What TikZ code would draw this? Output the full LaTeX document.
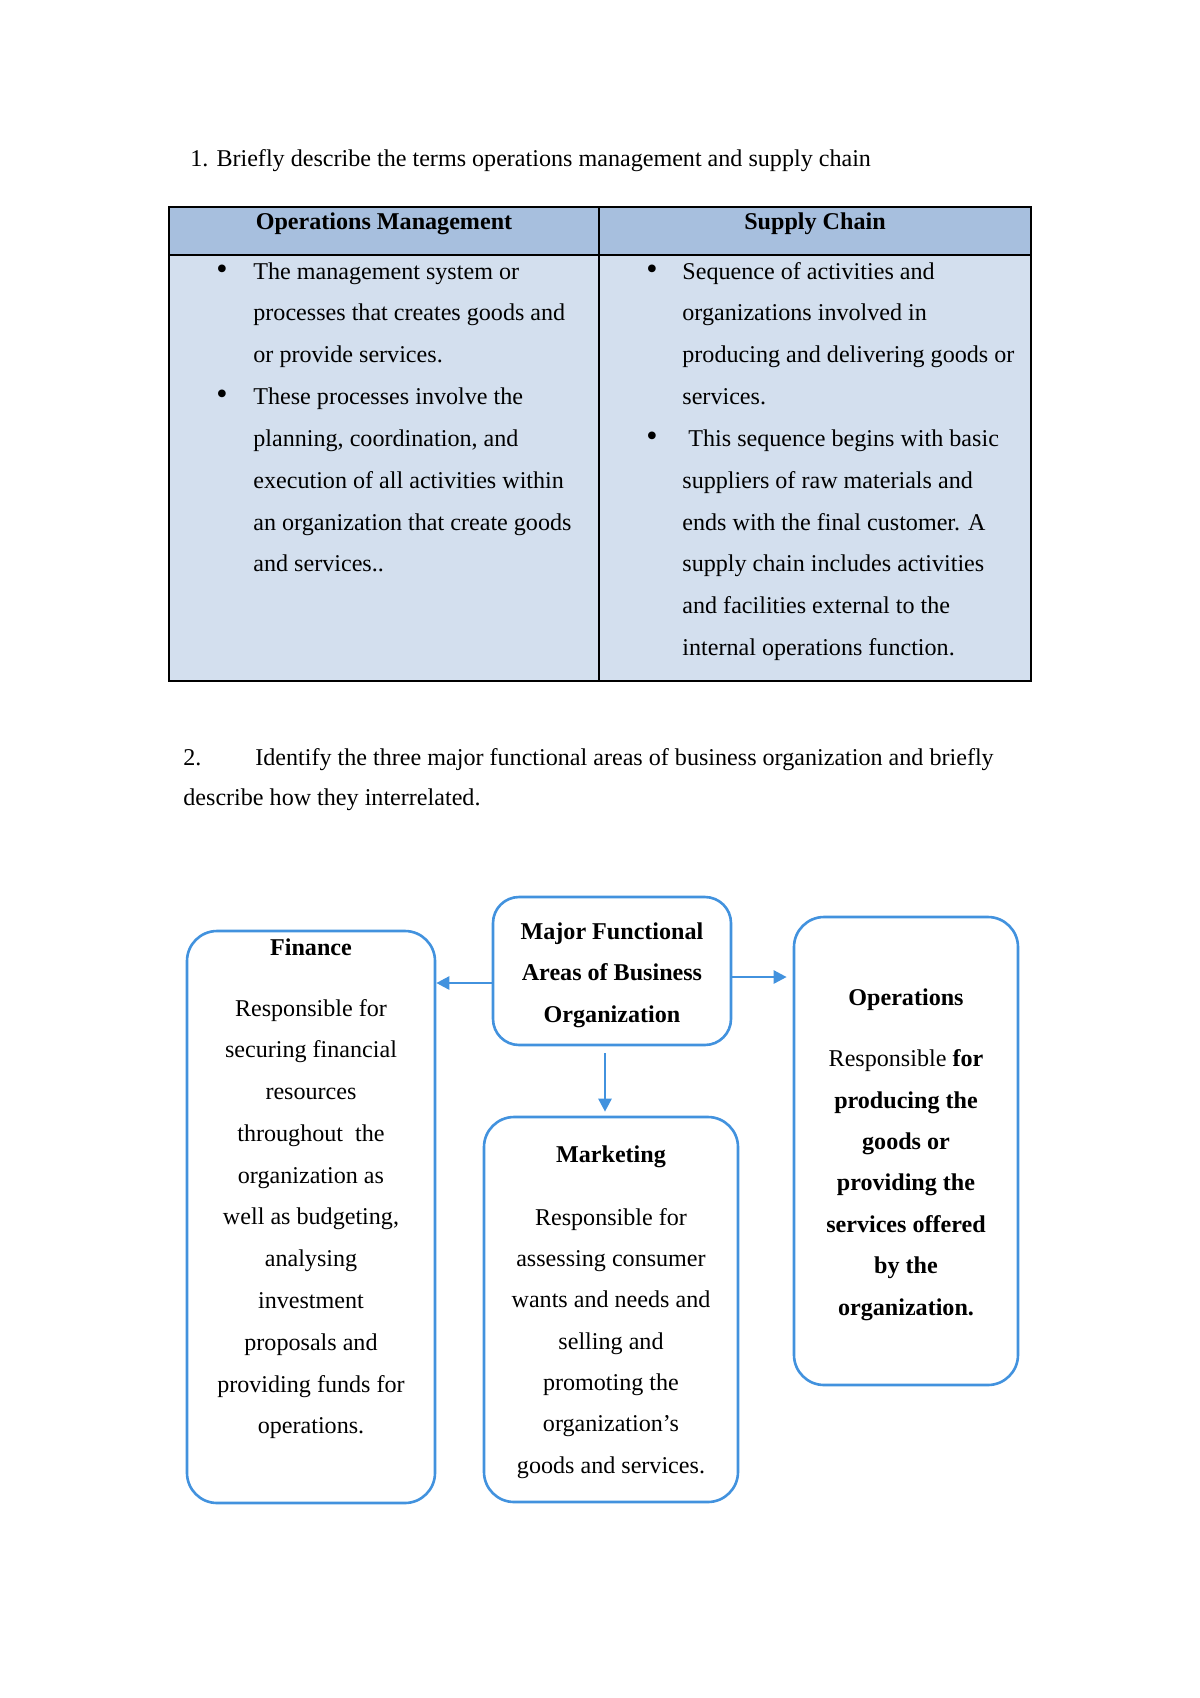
\documentclass[tikz,border=0pt]{standalone}
\usepackage{fontspec}
\setmainfont{Liberation Serif}
\usetikzlibrary{arrows.meta}
\usetikzlibrary{fit}
\usetikzlibrary{positioning}
\definecolor{hdrblue}{HTML}{A7BFDE}
\definecolor{cellblue}{HTML}{D3DFEE}
\definecolor{boxblue}{RGB}{66,146,222}
\tikzset{
  txt/.style={font=\fontsize{12}{20.8}\selectfont, inner sep=0pt},
  btxt/.style={font=\fontsize{12}{20.6}\selectfont\bfseries, inner sep=0pt},
  dot/.style={font=\fontsize{16}{16}\selectfont, inner sep=0pt, anchor=base},
  box/.style={draw=boxblue, line width=1.3pt, rounded corners=15pt, inner sep=0pt},
  arr/.style={draw=boxblue, line width=1.3pt, -{Triangle[length=6.5pt,width=6.5pt]}},
}

\begin{document}
\begin{tikzpicture}[x=0.0175cm, y=-0.0175cm]
\useasboundingbox (0,0) rectangle (1200,1698);

% question 1
\node[txt, anchor=base west] (q1) at (190,166) {1. Briefly describe the terms operations management and supply chain};

% table
\fill[hdrblue] (169,207) rectangle (1031,255);
\fill[cellblue] (169,255) rectangle (1031,681);
\draw[line width=1pt] (169,255) -- (1031,255);
\draw[line width=1pt] (599,207) -- (599,681);
\draw[line width=1.4pt] (169,207) rectangle (1031,681);

\node[btxt, anchor=base] (omhead) at (384,229) {Operations Management};
\node[btxt, anchor=base] (schead) at (815,229) {Supply Chain};

% multi-line nodes sit on the baseline of their last line
\node[dot] (omdot1) at (222,279) {\textbullet};
\node[txt, anchor=base west, align=left] (om1) at (253,362.6) {The management system or\\processes that creates goods and\\or provide services.};
\node[dot] (omdot2) at (222,404.7) {\textbullet};
\node[txt, anchor=base west, align=left] (om2) at (253,571.8) {These processes involve the\\planning, coordination, and\\execution of all activities within\\an organization that create goods\\and services..};

\node[dot] (scdot1) at (652,279) {\textbullet};
\node[txt, anchor=base west, align=left] (sc1) at (682,404.3) {Sequence of activities and\\organizations involved in\\producing and delivering goods or\\services.};
\node[dot] (scdot2) at (652,446.6) {\textbullet};
\node[txt, anchor=base west, align=left] (sc2) at (682,655.5) {\ This sequence begins with basic\\suppliers of raw materials and\\ends with the final customer. A\\supply chain includes activities\\and facilities external to the\\internal operations function.};

% question 2
\node[txt, anchor=base west] (q2num) at (183,765) {2.};
\node[txt, anchor=base west] (q2) at (255,765) {Identify the three major functional areas of business organization and briefly};
\node[txt, anchor=base west] (q2b) at (183,805) {describe how they interrelated.};

% functional areas
\node[box, rounded corners=13pt, fit={(493,897) (731,1045)}] (maj) {};
\node[box, fit={(187,931) (435,1503)}] (fin) {};
\node[box, fit={(484,1117) (738,1502)}] (mkt) {};
\node[box, fit={(794,917) (1018,1385)}] (ops) {};

\node[btxt, anchor=base, align=center] (majtxt) at (612,1022) {Major Functional\\Areas of Business\\Organization};

\node[btxt, anchor=base] (fintitle) at (311,955) {Finance};
\node[txt, anchor=base, align=center] (fintxt) at (311,1433.8) {Responsible for\\securing financial\\resources\\throughout\ \ the\\organization as\\well as budgeting,\\analysing\\investment\\proposals and\\providing funds for\\operations.};

\node[btxt, anchor=base] (mkttitle) at (611,1162) {Marketing};
\node[txt, font=\fontsize{12}{20.6}\selectfont, anchor=base, align=center] (mkttxt) at (611,1473.2) {Responsible for\\assessing consumer\\wants and needs and\\selling and\\promoting the\\organization’s\\goods and services.};

\node[btxt, anchor=base] (opstitle) at (906,1005) {Operations};
\node[btxt, anchor=base, align=center] (opstxt) at (906,1315) {\mdseries Responsible \bfseries for\\producing the\\goods or\\providing the\\services offered\\by the\\organization.};

\draw[arr] (maj.west |- 0,983) -- (fin.east |- 0,983);
\draw[arr, shorten >=3pt] (maj.east |- 0,977) -- (ops.west |- 0,977);
\draw[arr, shorten <=3.5pt, shorten >=2pt] (maj.south -| 605,0) -- (mkt.north -| 605,0);

\end{tikzpicture}
\end{document}
